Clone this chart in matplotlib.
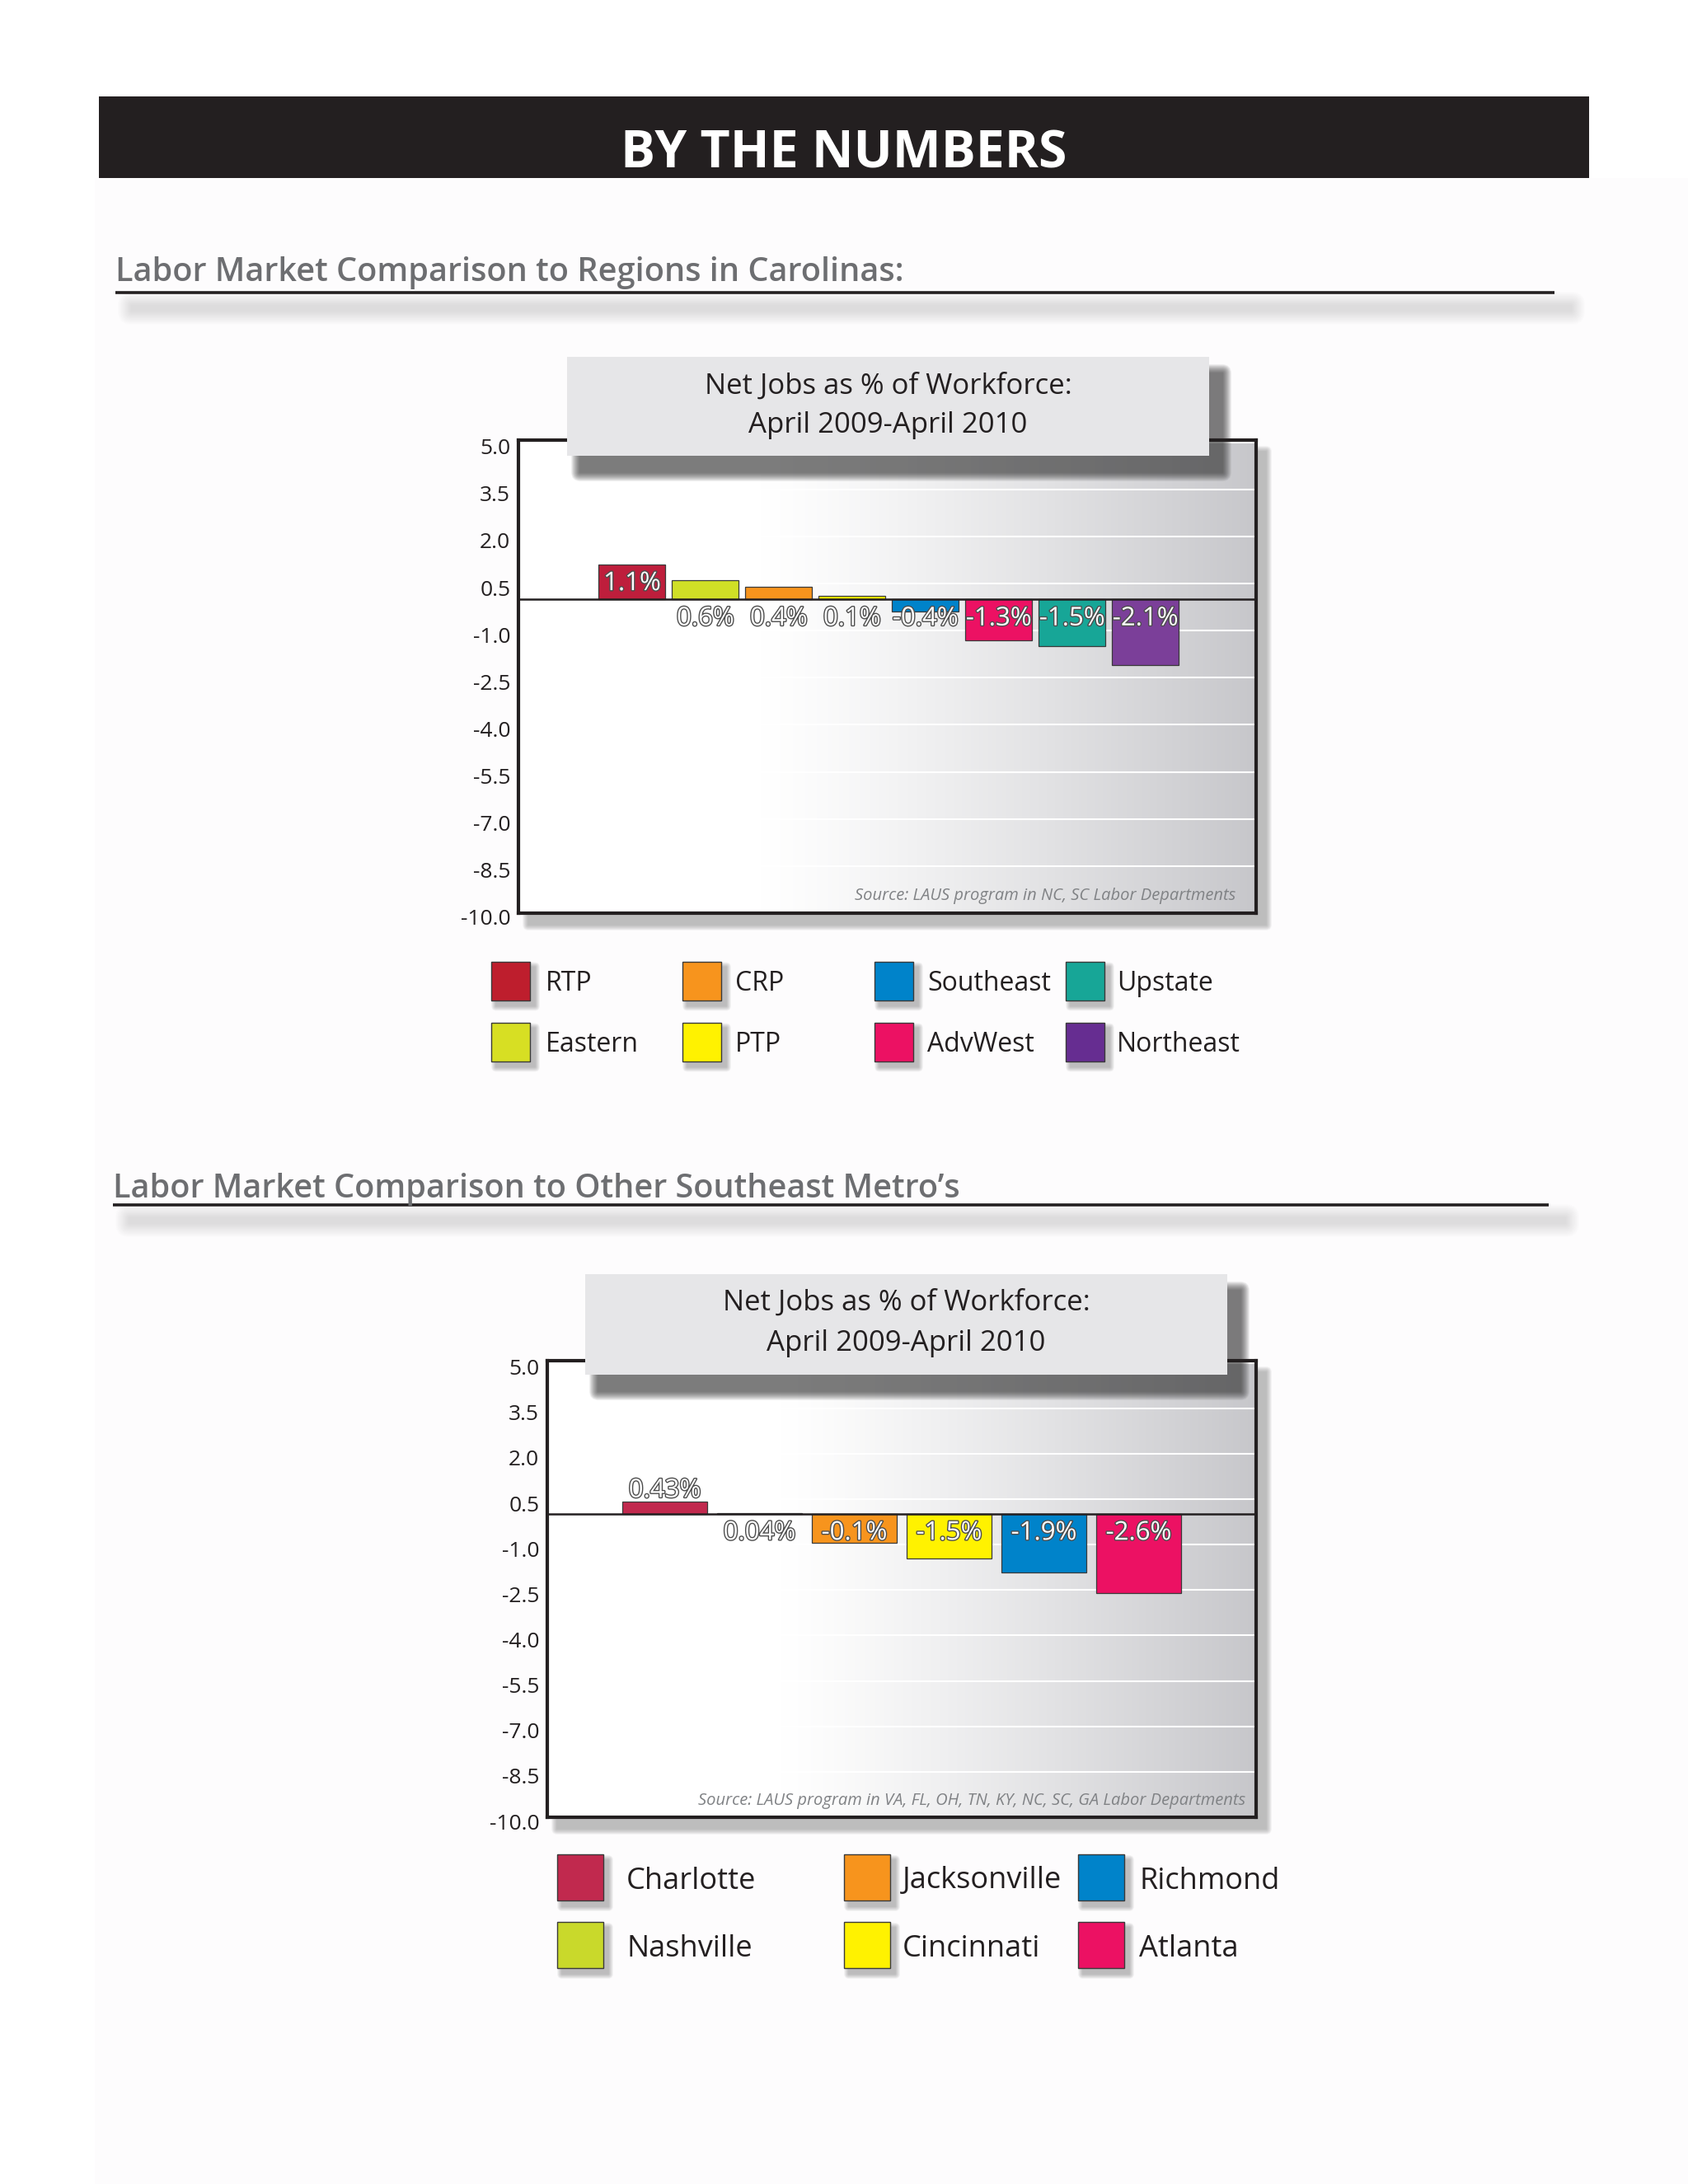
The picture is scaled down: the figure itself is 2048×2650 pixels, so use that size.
import matplotlib
matplotlib.use("Agg")
import matplotlib.pyplot as plt
import matplotlib.patheffects as pe
from matplotlib.patches import Rectangle, FancyBboxPatch
from matplotlib.transforms import ScaledTranslation
import numpy as np

plt.rcParams["font.family"] = ["Open Sans", "DejaVu Sans"]

W, H, DPI = 2048, 2650, 100

# ── data ─────────────────────────────────────────────────────────────────────
REGIONS = ["RTP", "Eastern", "CRP", "PTP", "Southeast", "AdvWest", "Upstate", "Northeast"]
REGION_VALUES = [1.1, 0.6, 0.4, 0.1, -0.4, -1.3, -1.5, -2.1]
REGION_LABELS = ["1.1%", "0.6%", "0.4%", "0.1%", "-0.4%", "-1.3%", "-1.5%", "-2.1%"]
REGION_COLORS = ["#be1e3c", "#d0df26", "#f7941d", "#fff200",
                 "#0083ca", "#ec1163", "#17a697", "#7b3f99"]
REGION_LEGEND_COLORS = ["#be1e2d", "#d7df23", "#f7941d", "#fff200",
                        "#0083ca", "#ec1163", "#17a697", "#662d91"]

METROS = ["Charlotte", "Nashville", "Jacksonville", "Cincinnati", "Richmond", "Atlanta"]
METRO_VALUES = [0.42, 0.04, -0.95, -1.47, -1.92, -2.6]
METRO_LABELS = ["0.43%", "0.04%", "-0.1%", "-1.5%", "-1.9%", "-2.6%"]
METRO_COLORS = ["#c1294e", "#c9d92b", "#f7941d", "#fff200", "#0083ca", "#ec1163"]

Y_TICKS = [5.0, 3.5, 2.0, 0.5, -1.0, -2.5, -4.0, -5.5, -7.0, -8.5, -10.0]

TITLE = "BY THE NUMBERS"
HEAD_1 = "Labor Market Comparison to Regions in Carolinas:"
HEAD_2 = "Labor Market Comparison to Other Southeast Metro\u2019s"
CHART_TITLE = ["Net Jobs as % of Workforce:", "April 2009-April 2010"]
SOURCE_1 = "Source: LAUS program in NC, SC Labor Departments"
SOURCE_2 = "Source: LAUS program in VA, FL, OH, TN, KY, NC, SC, GA Labor Departments"

INK = "#231f20"
GREY_HEAD = "#6d6e71"


def px_axes(x0, y0, x1, y1, **kw):
    return fig.add_axes([x0 / W, 1 - y1 / H, (x1 - x0) / W, (y1 - y0) / H], **kw)


def soft_shadow(ax, x, y, w, h, color, blur, alpha, steps=16):
    for i in range(steps):
        g = blur * (1 - i / steps)
        ax.add_patch(FancyBboxPatch((x - g / 2, y - g / 2), w + g, h + g,
                                    boxstyle=f"round,pad=0,rounding_size={g / 2 + 0.1}",
                                    fc=color, ec="none", alpha=alpha / steps))


def gradient(ax, start):
    t = np.linspace(0, 1, 400)
    s = np.clip((t - start) / (1 - start), 0, 1) ** 1.2
    lo, hi = np.array([1.0, 1.0, 1.0]), np.array([0.78, 0.78, 0.795])
    img = (lo[None, :] * (1 - s[:, None]) + hi[None, :] * s[:, None])[None, :, :]
    ax.imshow(img, extent=[0, 1, 0, 1], transform=ax.transAxes, aspect="auto",
              interpolation="bilinear", zorder=-1)


def draw_chart(ax, values, labels, colors, width, xlim, label_above, src, src_x):
    gradient(ax, 0.33)
    x = np.arange(len(values))
    ax.bar(x, values, width=width, color=colors, edgecolor="#3a3a3a", linewidth=0.9, zorder=2)
    ax.axhline(0, color=INK, lw=1.8, zorder=3)
    outline = [pe.withStroke(linewidth=2.0, foreground="#4d4d4d")]
    for xi, v, lab in zip(x, values, labels):
        if v >= label_above:
            y = v / 2 - 0.05 if v >= 1 else v + 0.36
        else:
            y = -0.62
        ax.text(xi, y, lab, ha="center", va="center", color="white", fontsize=22.5,
                path_effects=outline, zorder=4)
    ax.set_xlim(*xlim)
    ax.set_ylim(-10.0, 5.07)
    ax.set_xticks([])
    ax.set_yticks(Y_TICKS)
    ax.set_yticklabels([f"{t:.1f}" for t in Y_TICKS])
    ax.tick_params(axis="y", length=0, pad=7, labelsize=19, labelcolor=INK)
    off = ScaledTranslation(0, -0.05, fig.dpi_scale_trans)
    for lab in ax.get_yticklabels():
        lab.set_transform(lab.get_transform() + off)
    ax.yaxis.grid(True, color="white", lw=1.5)
    ax.set_axisbelow(True)
    for sp in ax.spines.values():
        sp.set_color(INK)
        sp.set_linewidth(3)
    ax.text(src_x, 0.037, src, transform=ax.transAxes, ha="right", va="center",
            style="italic", color="#808285", fontsize=14.5, zorder=4)


def title_box(ax, x0, y0, x1, y1, y_lines):
    soft_shadow(ax, x0 + 16, y0 + 20, x1 - x0, y1 - y0, "#2b2b2b", 22, 0.9)
    ax.add_patch(Rectangle((x0, y0), x1 - x0, y1 - y0, fc="#e6e6e8", ec="none"))
    for txt, yy in zip(CHART_TITLE, y_lines):
        ax.text((x0 + x1) / 2, yy, txt, ha="center", va="center_baseline",
                color=INK, fontsize=25)


def heading(ax, x0, x1, y_text, y_line, text):
    soft_shadow(bg, x0 + 20, y_line + 16, x1 - x0, 6, "#a8a8a8", 34, 0.38)
    ax.text(x0, y_text, text, ha="left", va="center_baseline", color=GREY_HEAD,
            fontsize=28.5, fontweight="semibold")
    ax.plot([x0, x1], [y_line, y_line], color=INK, lw=2.6, solid_capstyle="butt")


def legend(ax, names, colors, sq_x, txt_x, row_y, size, fontsize):
    for i, (name, c) in enumerate(zip(names, colors)):
        col, row = divmod(i, 2)
        cy = row_y[row]
        soft_shadow(ax, sq_x[col] + 6, cy - size / 2 + 7, size, size, "#6a6a6a", 12, 0.5)
        ax.add_patch(Rectangle((sq_x[col], cy - size / 2), size, size, fc=c,
                               ec="#3a3a3a", lw=1.0))
        ax.text(txt_x[col], cy, name, ha="left", va="center_baseline", color=INK,
                fontsize=fontsize)


fig = plt.figure(figsize=(W / DPI, H / DPI), dpi=DPI, facecolor="white")

bg = fig.add_axes([0, 0, 1, 1], zorder=-2)
bg.set_xlim(0, W)
bg.set_ylim(H, 0)
bg.axis("off")

top = fig.add_axes([0, 0, 1, 1], zorder=5)
top.set_xlim(0, W)
top.set_ylim(H, 0)
top.axis("off")

# page + header
bg.add_patch(Rectangle((115, 216), W - 115, H - 216, fc="#fdfcfd", ec="none"))
bg.add_patch(Rectangle((120, 117), 1808, 99, fc=INK, ec="none"))
bg.text(1024, 180, TITLE, ha="center", va="center_baseline", color="white",
        fontsize=45, fontweight="bold")

# ── chart 1 ──────────────────────────────────────────────────────────────────
heading(bg, 140, 1886, 326, 355, HEAD_1)
soft_shadow(bg, 629 + 12, 534 + 14, 895, 574, "#8a8a8a", 14, 0.7)
ax1 = px_axes(629, 534, 1524, 1108, zorder=1)
draw_chart(ax1, REGION_VALUES, REGION_LABELS, REGION_COLORS, 0.91, (-1.55, 8.51),
           1.0, SOURCE_1, 0.972)
title_box(top, 688, 433, 1467, 553, [465, 512])
legend(bg, REGIONS, REGION_LEGEND_COLORS, [596, 828, 1061, 1293], [662, 892, 1125, 1355],
       [1190, 1264], 47, 23)

# ── chart 2 ──────────────────────────────────────────────────────────────────
heading(bg, 137, 1879, 1438, 1462, HEAD_2)
soft_shadow(bg, 664 + 12, 1651 + 14, 860, 554, "#8a8a8a", 14, 0.7)
ax2 = px_axes(664, 1651, 1524, 2205, zorder=1)
draw_chart(ax2, METRO_VALUES, METRO_LABELS, METRO_COLORS, 0.9, (-1.24, 6.24),
           0.2, SOURCE_2, 0.985)
title_box(top, 710, 1546, 1489, 1668, [1577, 1626])
legend(bg, METROS, METRO_COLORS, [676, 1024, 1308], [760, 1095, 1382],
       [2278, 2360], 56, 26)

fig.savefig("out.png", dpi=DPI, facecolor="white")
